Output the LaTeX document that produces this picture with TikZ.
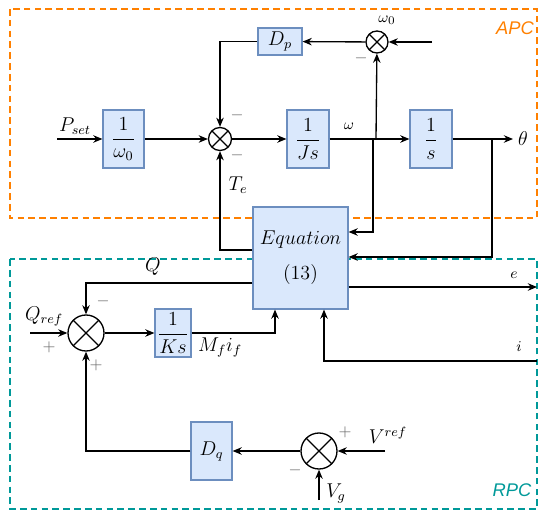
\documentclass[tikz,border=0pt]{standalone}
\usepackage{fontspec}
\newfontfamily\hv{Liberation Sans}
\usetikzlibrary{arrows.meta}
\definecolor{bfill}{HTML}{DAE8FC}
\definecolor{bdraw}{HTML}{6C8EBF}
\definecolor{apcc}{HTML}{FF8000}
\definecolor{rpcc}{HTML}{009999}
\begin{document}
\begin{tikzpicture}[x=0.6pt,y=-0.6pt,font=\fontsize{12}{14}\selectfont,
 blk/.style={draw=bdraw,fill=bfill,line width=0.7pt,inner sep=0pt},
 sumnode/.style={circle,draw,line width=0.8pt,inner sep=0pt,path picture={\draw[line width=0.8pt] (path picture bounding box.north west)--(path picture bounding box.south east) (path picture bounding box.north east)--(path picture bounding box.south west);}},
 conn/.style={line width=0.8pt,-{Stealth[length=5.5pt,width=4.5pt]}},
 small/.style={font=\fontsize{9.5}{11}\selectfont},
 sgn/.style={text=black!60,font=\fontsize{10}{12}\selectfont,inner sep=0pt},
 lbl/.style={inner sep=0pt},
 grp/.style={line width=0.9pt,dash pattern=on 4pt off 2.5pt}]
\useasboundingbox (0,0) rectangle (550,518);
\draw[grp,apcc] (10,9) rectangle (537,218);
\draw[grp,rpcc] (10,259) rectangle (537,509);
\node[text=apcc,font=\hv\itshape\fontsize{11}{13}\selectfont] (apc) at (515,28) {APC};
\node[text=rpcc,font=\hv\itshape\fontsize{11}{13}\selectfont] (rpc) at (512,490) {RPC};
% blocks
\node[blk,minimum width=24.6pt,minimum height=34.8pt] (w0b) at (123.5,139) {$\displaystyle\frac{1}{\omega_0}$};
\node[blk,minimum width=26.4pt,minimum height=16.2pt] (Dp) at (280,41.5) {$D_p$};
\node[blk,minimum width=25.2pt,minimum height=34.8pt] (Js) at (308,139) {$\displaystyle\frac{1}{Js}$};
\node[blk,minimum width=25.2pt,minimum height=34.8pt] (sb) at (431,139) {$\displaystyle\frac{1}{s}$};
\node[blk,minimum width=57pt,minimum height=61.2pt,align=center] (Eq) at (300.5,258) {$Equation$\\[7pt]$(13)$};
\node[blk,minimum width=21.6pt,minimum height=28.8pt] (Ks) at (173,333) {$\displaystyle\frac{1}{Ks}$};
\node[blk,minimum width=24.6pt,minimum height=34.8pt] (Dq) at (211.5,451) {$D_q$};
% summing junctions
\node[sumnode,minimum size=13.8pt] (s1) at (220,139) {};
\node[sumnode,minimum size=13.2pt] (s2) at (377,42) {};
\node[sumnode,minimum size=21.6pt] (s3) at (86,333) {};
\node[sumnode,minimum size=21.6pt] (s4) at (319,451) {};
% free ends and branch points
\coordinate (pin) at (57,139);
\coordinate (thout) at (513,139);
\coordinate (bw1) at (376,139);
\coordinate (bw2) at (373,139);
\coordinate (bt) at (492,139);
\coordinate (w0in) at (432,42);
\coordinate (qin) at (30,333);
\coordinate (eout) at (537,287);
\coordinate (iin) at (537,361);
\coordinate (vin) at (385,451);
\coordinate (vgin) at (319,500);
% connectors
\draw[conn] (pin) -- (w0b);
\draw[conn] (w0b) -- (s1);
\draw[conn] (s1) -- (Js);
\draw[conn] (Js) -- (sb);
\draw[conn] (sb) -- (thout);
\draw[conn] (bw1) -- (s2);
\draw[conn] (w0in) -- (s2);
\draw[conn] (s2) -- (Dp);
\draw[conn] (Dp) -| (s1);
\draw[conn] (bw2) |- (Eq.east |- 0,232);
\draw[conn] (bt) |- (Eq.east |- 0,257);
\draw[conn] (Eq.west |- 0,250) -| (s1);
\draw[conn] (Eq.west |- 0,283) -| (s3);
\draw[conn] (qin) -- (s3);
\draw[conn] (s3) -- (Ks);
\draw[conn] (Ks) -| (Eq.south -| 275,0);
\draw[conn] (Eq.east |- 0,287) -- (eout);
\draw[conn] (iin) -| (Eq.south -| 324,0);
\draw[conn] (vin) -- (s4);
\draw[conn] (s4) -- (Dq);
\draw[conn] (Dq) -| (s3);
\draw[conn] (vgin) -- (s4);
% labels
\node[lbl] (lp) at (75,126) {$P_{set}$};
\node[lbl] (lth) at (523,139) {$\theta$};
\node[lbl,small] (lw) at (349,126) {$\omega$};
\node[lbl,small] (lw0) at (387,20) {$\omega_0$};
\node[lbl] (lte) at (238,185) {$T_e$};
\node[lbl] (lq) at (153,267) {$Q$};
\node[lbl] (lqr) at (44,316) {$Q_{ref}$};
\node[lbl] (lmf) at (220,347) {$M_f i_f$};
\node[lbl,small] (le) at (514,275) {$e$};
\node[lbl,small] (li) at (519,347) {$i$};
\node[lbl] (lvr) at (388,435) {$V^{ref}$};
\node[lbl] (lvg) at (336,493) {$V_g$};
% signs
\node[sgn] (g1) at (237,115) {$-$};
\node[sgn] (g2) at (237,155) {$-$};
\node[sgn] (g3) at (361,58) {$-$};
\node[sgn] (g4) at (103,301) {$-$};
\node[sgn] (g5) at (49,347) {$+$};
\node[sgn] (g6) at (96,365) {$+$};
\node[sgn] (g7) at (345,432) {$+$};
\node[sgn] (g8) at (295,470) {$-$};
\end{tikzpicture}
\end{document}
